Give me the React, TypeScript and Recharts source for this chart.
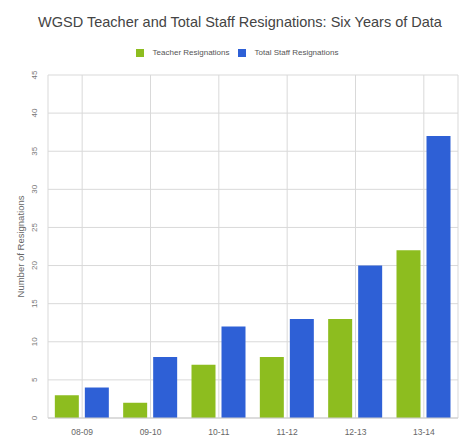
import React from 'react';
import { BarChart, Bar, XAxis, YAxis, CartesianGrid, Legend } from 'recharts';

const years = ['08-09', '09-10', '10-11', '11-12', '12-13', '13-14'];
const teacherResignations = [3, 2, 7, 8, 13, 22];
const totalStaffResignations = [4, 8, 12, 13, 20, 37];
const yTicks = [0, 5, 10, 15, 20, 25, 30, 35, 40, 45];

const GREEN = '#8dbd1f';
const BLUE = '#2e60d6';
const FONT = '"Liberation Sans", Arial, sans-serif';

const chartData = years.map((year, i) => ({
  year,
  teacher: teacherResignations[i],
  total: totalStaffResignations[i],
}));

const RotatedTick = (props: any) => {
  const { x, y, payload } = props;
  return (
    <text
      x={x}
      y={y}
      transform={`rotate(-90, ${x}, ${y})`}
      textAnchor="middle"
      fontSize={8}
      fill="#777"
      fontFamily={FONT}
    >
      {payload.value}
    </text>
  );
};

const LegendContent = () => (
  <div style={{ display: 'flex', justifyContent: 'center', fontSize: 8, color: '#555', fontFamily: FONT }}>
    <span style={{ display: 'flex', alignItems: 'center', marginRight: 8 }}>
      <span style={{ width: 8, height: 8, background: GREEN, display: 'inline-block', marginRight: 9 }} />
      Teacher Resignations
    </span>
    <span style={{ display: 'flex', alignItems: 'center' }}>
      <span style={{ width: 8, height: 8, background: BLUE, display: 'inline-block', marginRight: 9 }} />
      Total Staff Resignations
    </span>
  </div>
);

export default function App() {
  return (
    <div style={{ position: 'absolute', left: 0, top: 0, width: 474, height: 447, background: '#fff' }}>
      <div
        style={{
          position: 'absolute',
          top: 14,
          left: 0,
          width: 474,
          textAlign: 'center',
          fontFamily: FONT,
          fontSize: 14.5,
          color: '#444',
          paddingLeft: 6,
          boxSizing: 'border-box',
        }}
      >
        WGSD Teacher and Total Staff Resignations: Six Years of Data
      </div>
      <BarChart
        width={474}
        height={447}
        data={chartData}
        margin={{ top: 66, right: 16, bottom: 0, left: 0 }}
        barCategoryGap="10%"
        barGap={6}
      >
        <CartesianGrid stroke="#d9d9d9" />
        <XAxis
          dataKey="year"
          height={29}
          tickLine={false}
          axisLine={{ stroke: '#ccc' }}
          tick={{ fontSize: 8.5, fill: '#666', fontFamily: FONT }}
          tickMargin={5}
        />
        <YAxis
          width={48}
          domain={[0, 45]}
          ticks={yTicks}
          tickLine={false}
          axisLine={false}
          tick={<RotatedTick />}
          tickMargin={5}
          label={{
            value: 'Number of Resignations',
            angle: -90,
            position: 'insideLeft',
            dx: 16,
            style: { fontSize: 9.5, fill: '#666', fontFamily: FONT, textAnchor: 'middle' },
          }}
        />
        <Legend verticalAlign="top" content={<LegendContent />} wrapperStyle={{ top: 48, left: 0, width: 474 }} />
        <Bar dataKey="teacher" name="Teacher Resignations" fill={GREEN} isAnimationActive={false} />
        <Bar dataKey="total" name="Total Staff Resignations" fill={BLUE} isAnimationActive={false} />
      </BarChart>
    </div>
  );
}
